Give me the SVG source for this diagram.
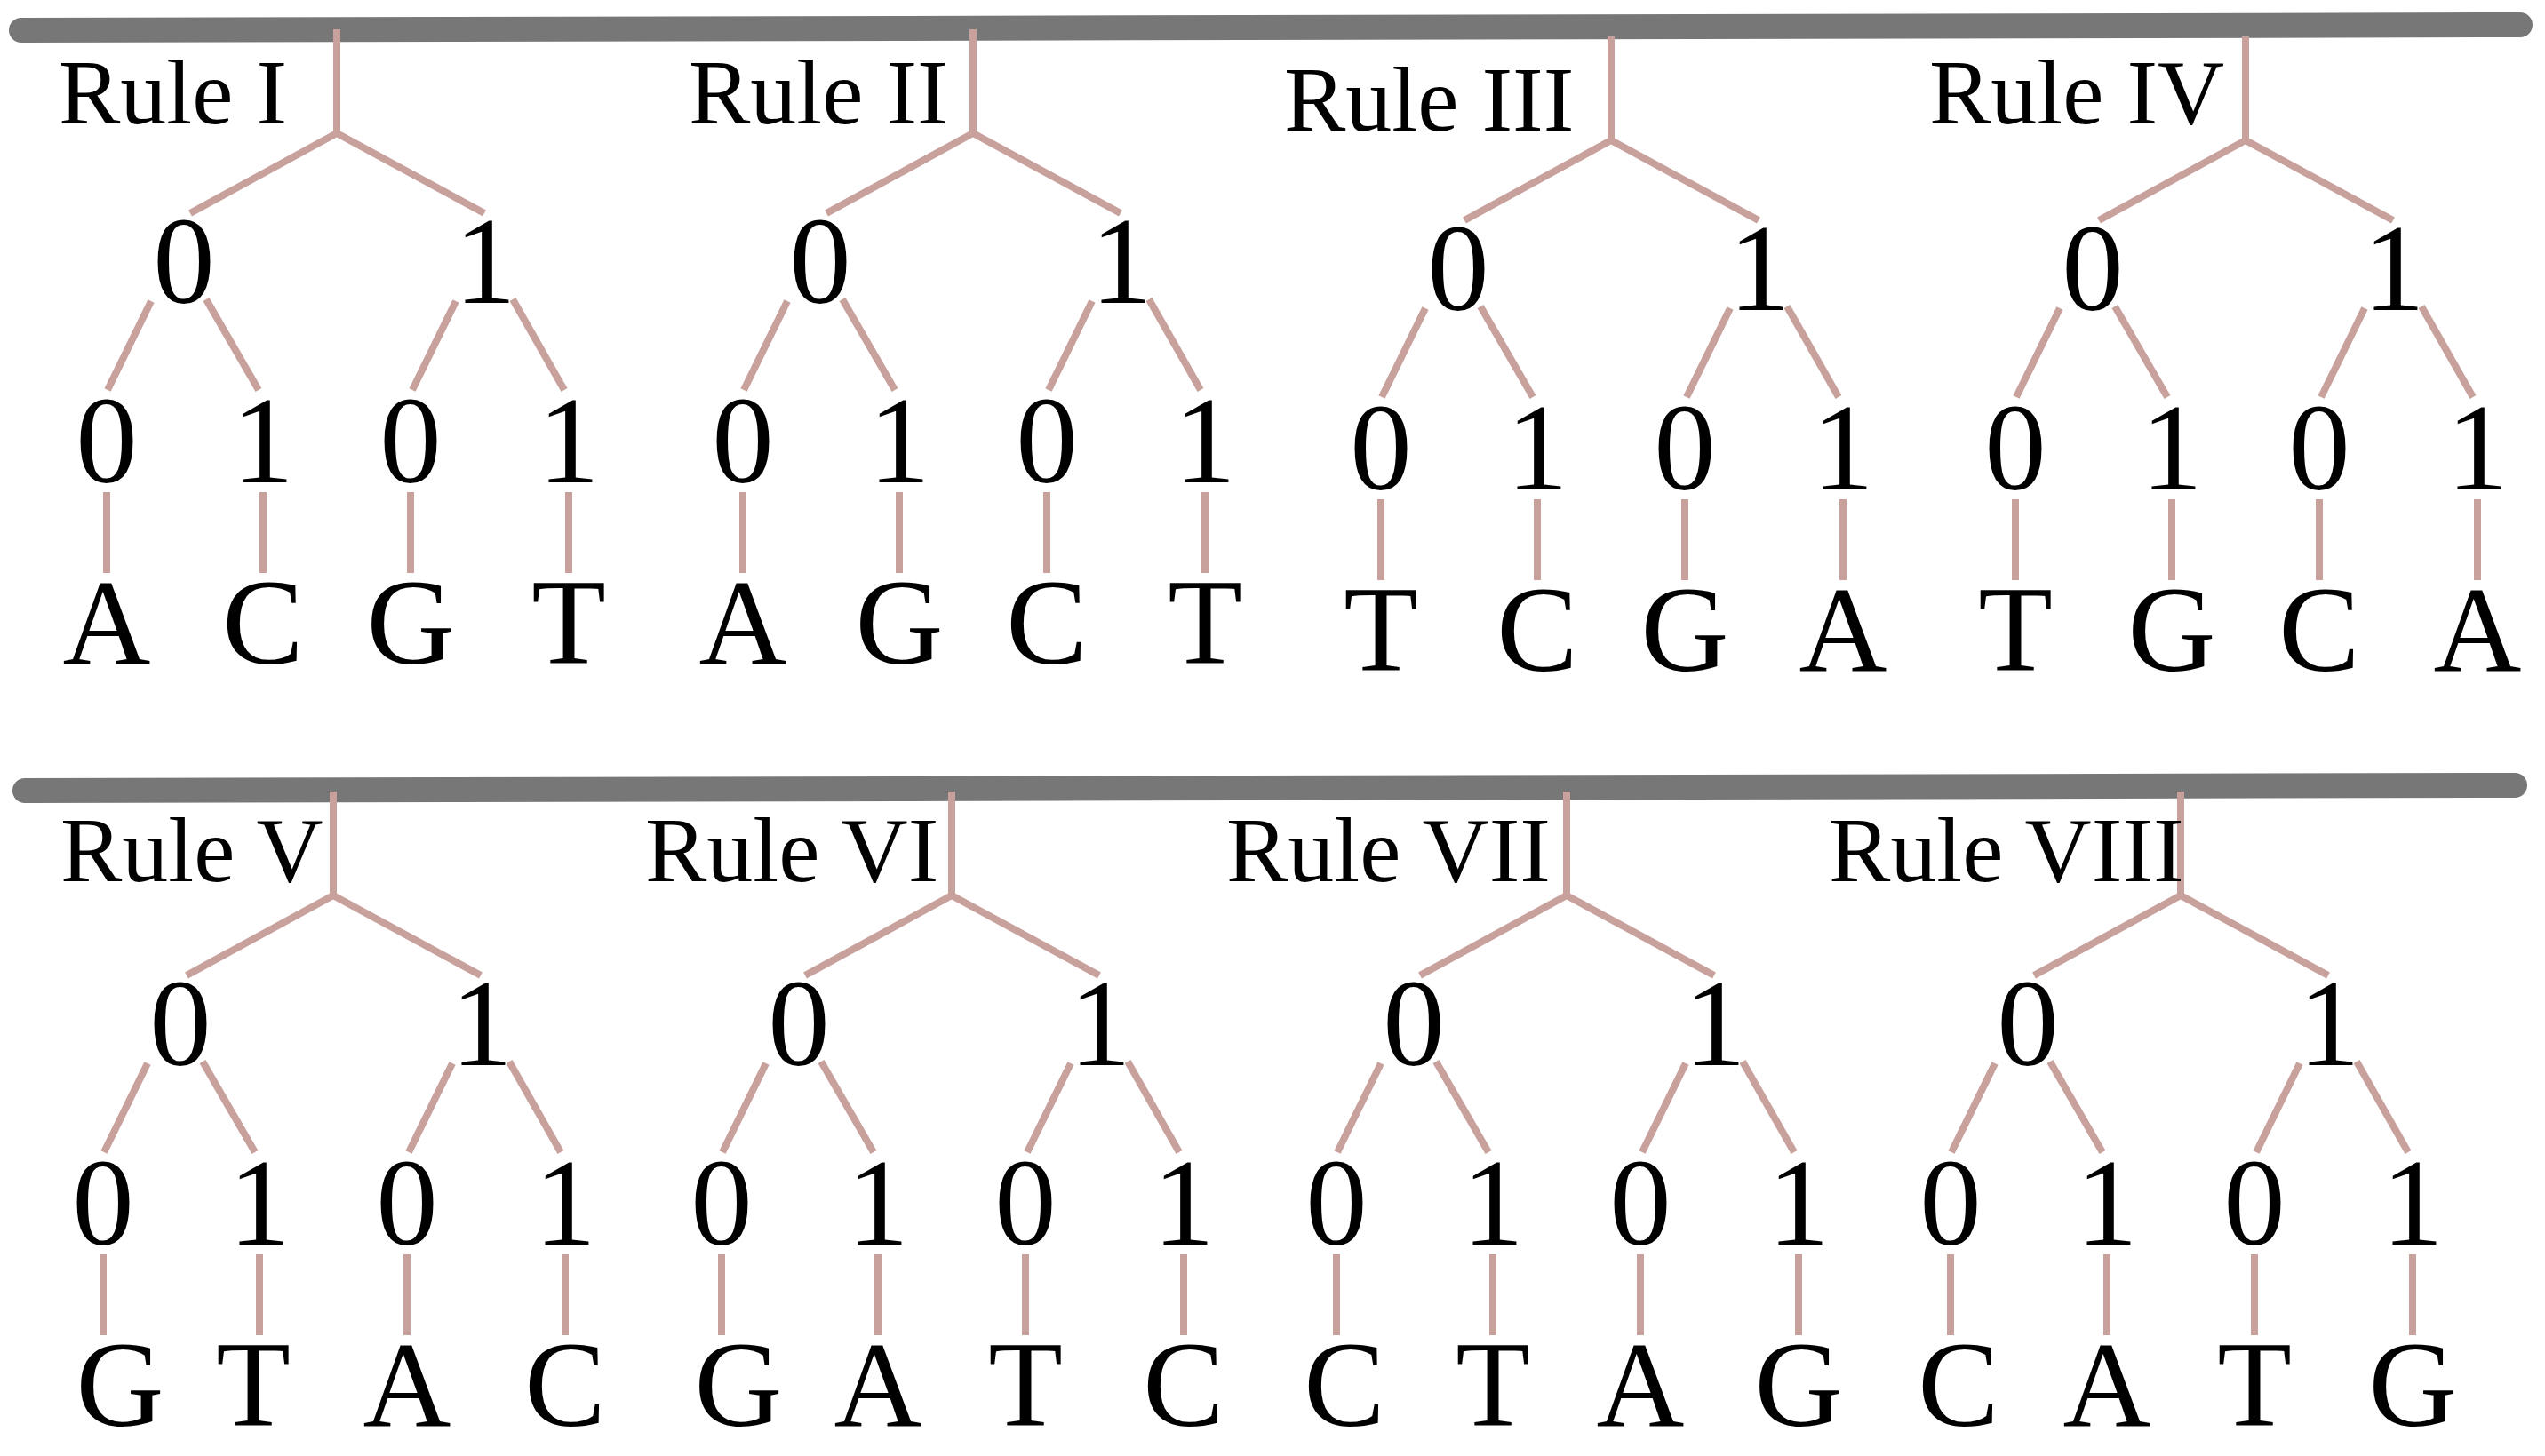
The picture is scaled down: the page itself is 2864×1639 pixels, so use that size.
<svg xmlns="http://www.w3.org/2000/svg" xmlns:xlink="http://www.w3.org/1999/xlink" width="2864" height="1639" viewBox="0 0 2864 1639">
<style>
.e{stroke:#c9a19c;stroke-width:8;fill:none}
.d{font-family:"Liberation Serif",serif;font-size:139px;fill:#000;text-anchor:middle}
.b{font-family:"Liberation Serif",serif;font-size:137px;fill:#000;text-anchor:middle}
.r{font-family:"Liberation Serif",serif;font-size:104px;fill:#000}
.bar{stroke:#777;stroke-width:28;stroke-linecap:round}
</style>
<defs>
<g id="sk" class="e">
<path d="M0,33V150L-165,240M0,150L166,240M-209,339L-258,439M-147,337L-88,439M134,339L85,439M198,337L256,439M-259,554V645M-83,554V645M83,554V645M261,554V645"/>
</g>
<g id="dg">
<text class="d" x="-172" y="341">0</text><text class="d" x="167" y="341">1</text>
<text class="d" x="-259" y="543">0</text><text class="d" x="-83" y="543">1</text><text class="d" x="83" y="543">0</text><text class="d" x="261" y="543">1</text>
</g>
</defs>
<g id="connectors">
<line class="bar" x1="24" y1="34" x2="2836" y2="28"/>
<line class="bar" x1="28" y1="890" x2="2830" y2="884"/>
<use xlink:href="#sk" transform="translate(379,0)"/>
<use xlink:href="#sk" transform="translate(1095,0)"/>
<use xlink:href="#sk" transform="translate(1813,8)"/>
<use xlink:href="#sk" transform="translate(2527,8)"/>
<use xlink:href="#sk" transform="translate(375,858)"/>
<use xlink:href="#sk" transform="translate(1071,858)"/>
<use xlink:href="#sk" transform="translate(1763,858)"/>
<use xlink:href="#sk" transform="translate(2454,858)"/>
</g>
<g id="rule1" transform="translate(379,0)"><text class="r" x="-313" y="139">Rule I</text><use xlink:href="#dg"/><text class="b" x="-259" y="747">A</text><text class="b" x="-83" y="747">C</text><text class="b" x="83" y="747">G</text><text class="b" x="261" y="747">T</text></g>
<g id="rule2" transform="translate(1095,0)"><text class="r" x="-320" y="139">Rule II</text><use xlink:href="#dg"/><text class="b" x="-259" y="747">A</text><text class="b" x="-83" y="747">G</text><text class="b" x="83" y="747">C</text><text class="b" x="261" y="747">T</text></g>
<g id="rule3" transform="translate(1813,8)"><text class="r" x="-368" y="139">Rule III</text><use xlink:href="#dg"/><text class="b" x="-259" y="747">T</text><text class="b" x="-83" y="747">C</text><text class="b" x="83" y="747">G</text><text class="b" x="261" y="747">A</text></g>
<g id="rule4" transform="translate(2527,8)"><text class="r" x="-356" y="131">Rule IV</text><use xlink:href="#dg"/><text class="b" x="-259" y="747">T</text><text class="b" x="-83" y="747">G</text><text class="b" x="83" y="747">C</text><text class="b" x="261" y="747">A</text></g>
<g id="rule5" transform="translate(375,858)"><text class="r" x="-307" y="134">Rule V</text><use xlink:href="#dg"/><text class="b" x="-240" y="747">G</text><text class="b" x="-90" y="747">T</text><text class="b" x="83" y="747">A</text><text class="b" x="261" y="747">C</text></g>
<g id="rule6" transform="translate(1071,858)"><text class="r" x="-345" y="134">Rule VI</text><use xlink:href="#dg"/><text class="b" x="-240" y="747">G</text><text class="b" x="-83" y="747">A</text><text class="b" x="83" y="747">T</text><text class="b" x="261" y="747">C</text></g>
<g id="rule7" transform="translate(1763,858)"><text class="r" x="-383" y="134">Rule VII</text><use xlink:href="#dg"/><text class="b" x="-250" y="747">C</text><text class="b" x="-83" y="747">T</text><text class="b" x="83" y="747">A</text><text class="b" x="261" y="747">G</text></g>
<g id="rule8" transform="translate(2454,858)"><text class="r" x="-396" y="134">Rule VIII</text><use xlink:href="#dg"/><text class="b" x="-250" y="747">C</text><text class="b" x="-83" y="747">A</text><text class="b" x="83" y="747">T</text><text class="b" x="261" y="747">G</text></g>
</svg>
